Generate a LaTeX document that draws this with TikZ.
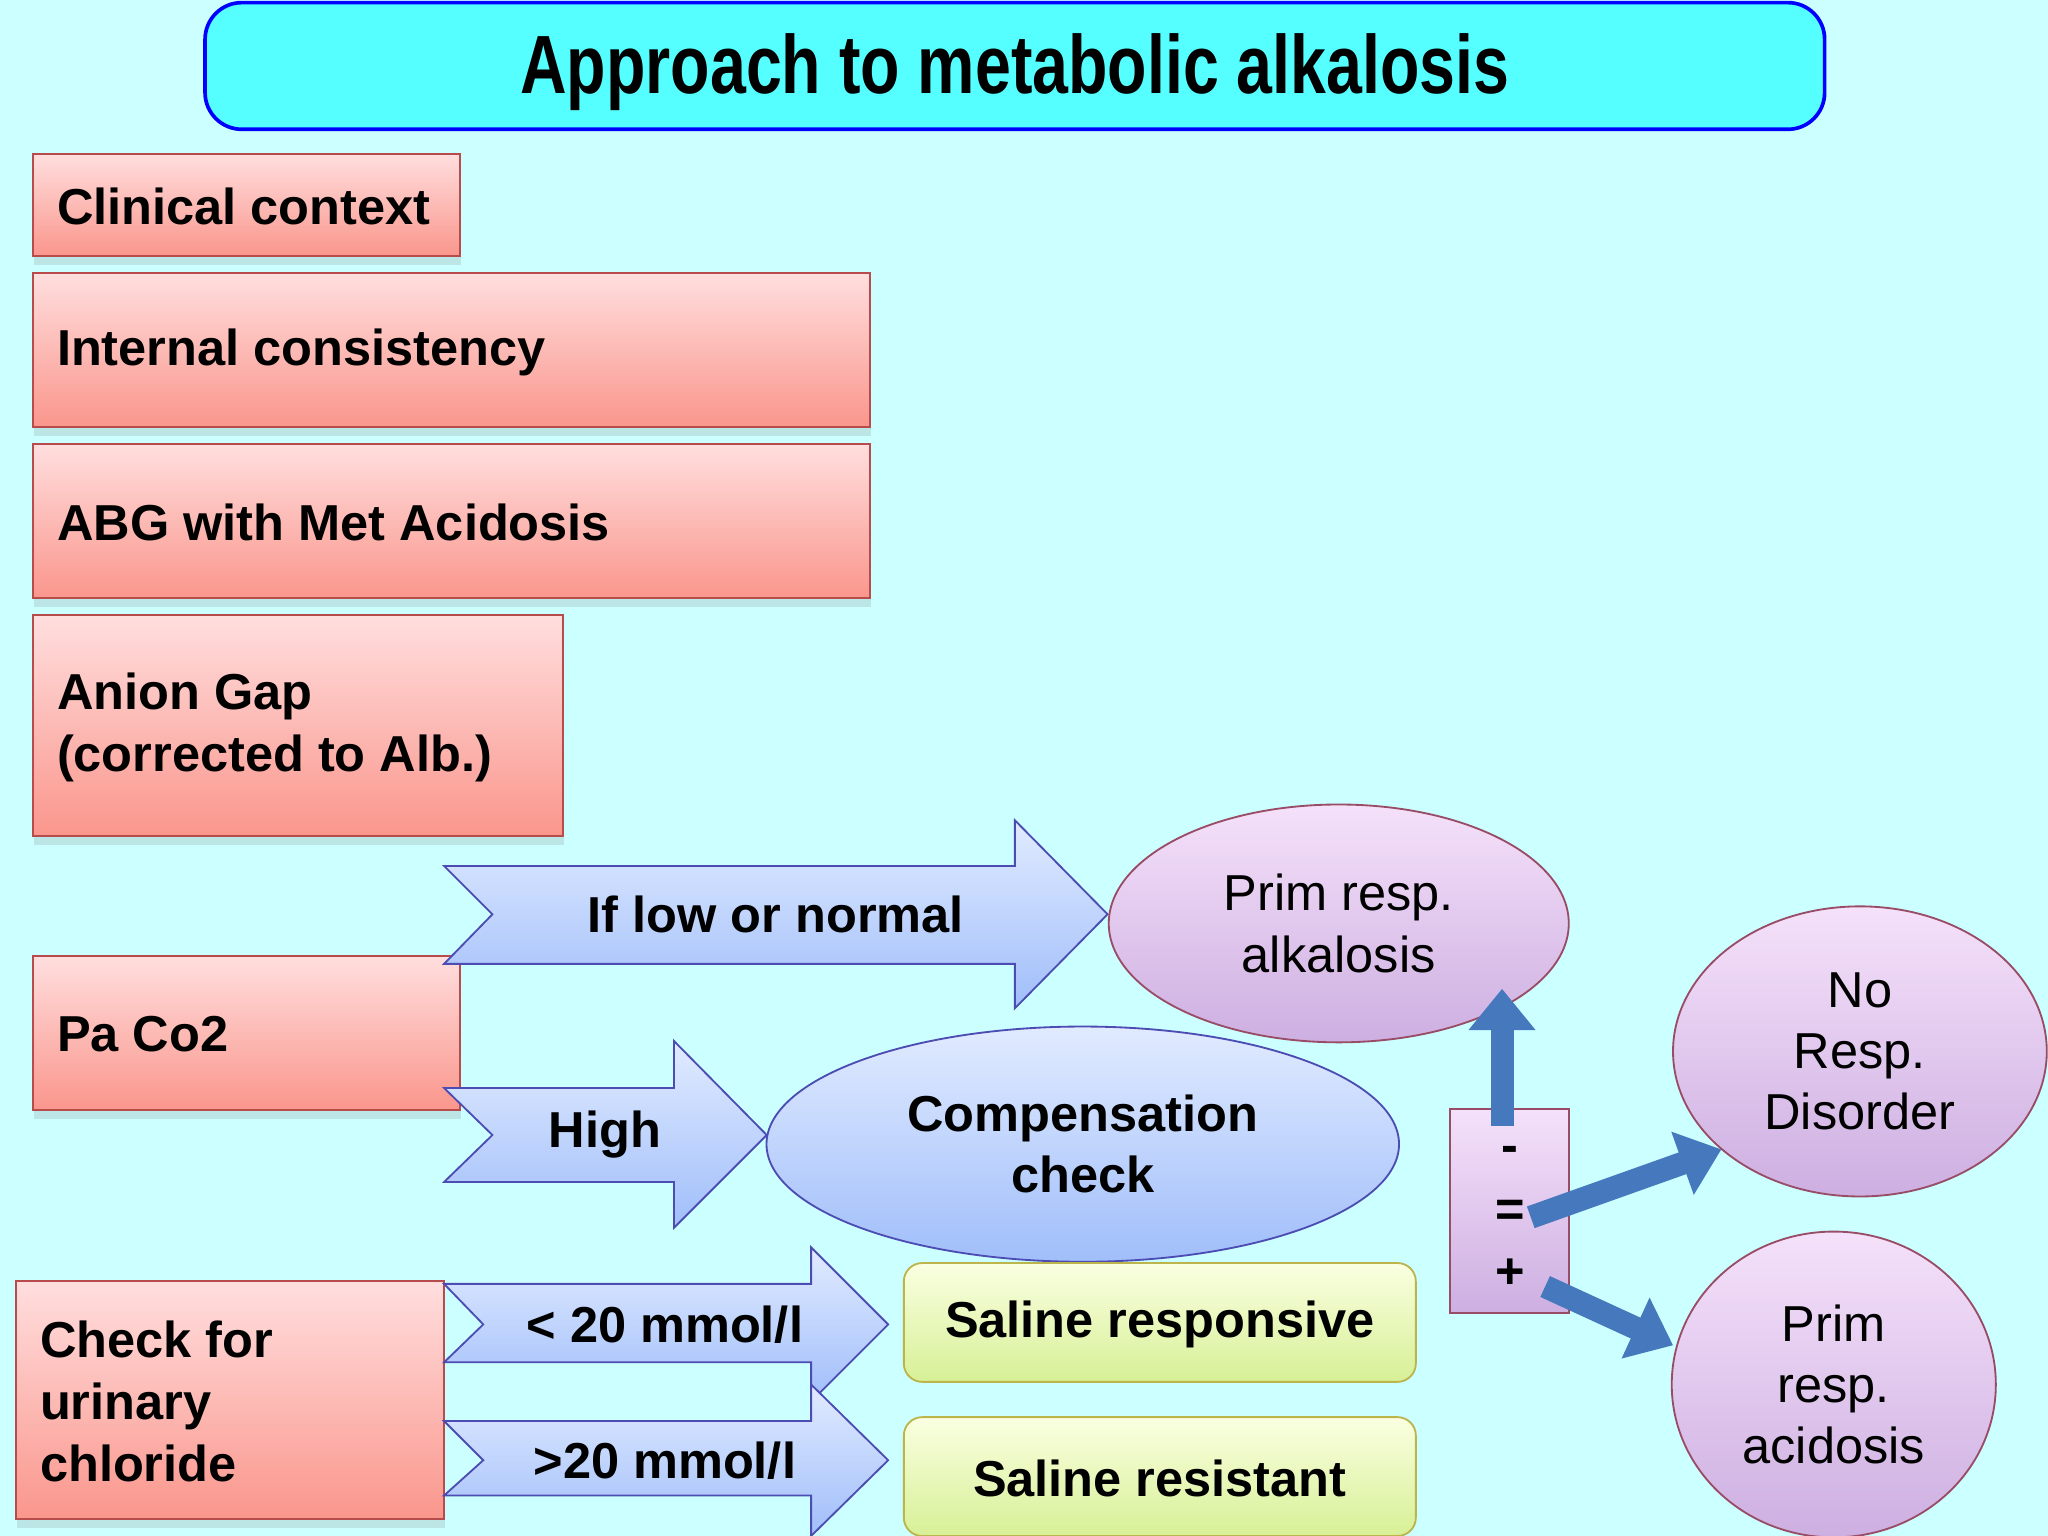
\documentclass[tikz,border=0pt]{standalone}
\usepackage{fontspec}
\setmainfont{Liberation Sans}
\newfontfamily\narrowfont[FakeStretch=0.78]{Liberation Sans}
\usetikzlibrary{shapes,arrows,positioning,shadows,calc,shapes.geometric,arrows.meta}
\definecolor{bgcyan}{RGB}{204,255,255}
\definecolor{titlecyan}{RGB}{85,255,255}
\definecolor{redtop}{RGB}{255,222,222}
\definecolor{redbot}{RGB}{250,150,140}
\definecolor{blutop}{RGB}{225,235,255}
\definecolor{blubot}{RGB}{160,190,250}
\definecolor{purtop}{RGB}{245,225,250}
\definecolor{purbot}{RGB}{205,175,225}
\definecolor{grntop}{RGB}{250,255,225}
\definecolor{grnbot}{RGB}{215,240,150}
\definecolor{bigblue}{RGB}{70,120,190}

\begin{document}
\begin{tikzpicture}[x=0.01cm,y=-0.01cm,
				font=\fontsize{11pt}{13.3pt}\selectfont,
				rbox/.style={draw=red!60!black!70, top color=redtop, bottom color=redbot, drop shadow={opacity=0.2, shadow xshift=0.3pt, shadow yshift=-2pt}},
				rtext/.style={anchor=west, inner sep=0pt, font=\fontsize{11pt}{13.5pt}\selectfont\bfseries, align=left},
				btext/.style={font=\fontsize{11pt}{13.3pt}\selectfont\bfseries},
				chev/.style={draw=blue!40!gray, top color=blutop, bottom color=blubot},
				oval/.style={ellipse, draw=purple!40!gray, top color=purtop, bottom color=purbot, align=center, inner sep=0pt},
				gbox/.style={draw=olive!60, rounded corners=4pt, top color=grntop, bottom color=grnbot},
				bigarr/.style={draw=bigblue!70!black, line width=5pt, -{Triangle[width=14pt,length=9pt]}, bigblue}
				]
				\fill[bgcyan] (0,0) rectangle (1568,1176);
				\useasboundingbox (0,0) rectangle (1568,1176);
				% title
				\draw[blue, thick, fill=titlecyan, rounded corners=8pt] (157,2) rectangle (1397,99);
				\node[font=\fontsize{18pt}{20pt}\narrowfont\bfseries] (title) at (777,55) {Approach to metabolic alkalosis};
				% red boxes
				\draw[rbox] (25,118) rectangle (352,196);
				\node[rtext] (ctx) at (43,158) {Clinical context};
				\draw[rbox] (25,209) rectangle (666,327);
				\node[rtext] (cons) at (43,270) {Internal consistency};
				\draw[rbox] (25,340) rectangle (666,458);
				\node[rtext] (abg) at (43,400) {ABG with Met Acidosis};
				\draw[rbox] (25,471) rectangle (431,640);
				\node[rtext] (gap) at (43,557) {Anion Gap\\(corrected to Alb.)};
				\draw[rbox] (25,732) rectangle (352,850);
				\node[rtext] (paco) at (43,792) {Pa Co2};
				\draw[rbox] (12,981) rectangle (340,1163);
				\node[rtext] (ucl) at (30,1073) {Check for\\urinary\\chloride};
				% chevron arrows
				\draw[chev] (340,663) -- (777,663) -- (777,628) -- (848,700) -- (777,772) -- (777,738) -- (340,738) -- (377,700) -- cycle;
				\node[btext] (low) at (594,700) {If low or normal};
				\draw[chev] (340,833) -- (516,833) -- (516,797) -- (587,869) -- (516,940) -- (516,905) -- (340,905) -- (377,869) -- cycle;
				\node[btext] (high) at (463,869) {High};
				\draw[chev] (340,983) -- (621,983) -- (621,955) -- (680,1014) -- (621,1073) -- (621,1043) -- (340,1043) -- (370,1014) -- cycle;
				\node[btext] (lt) at (509,1014) {< 20 mmol/l};
				\draw[chev] (340,1088) -- (621,1088) -- (621,1060) -- (680,1118) -- (621,1176) -- (621,1145) -- (340,1145) -- (370,1118) -- cycle;
				\node[btext] (gt) at (509,1118) {>20 mmol/l};
				% ovals
				\node[oval, minimum width=3.52cm, minimum height=1.82cm] (alk) at (1025,707) {Prim resp.\\alkalosis};
				\node[oval, draw=blue!40!gray, top color=blutop, bottom color=blubot, minimum width=4.84cm, minimum height=1.8cm, btext, align=center] (comp) at (829,876) {Compensation\\check};
				\node[oval, minimum width=2.86cm, minimum height=2.22cm] (nodis) at (1424,805) {No\\Resp.\\Disorder};
				\node[oval, minimum width=2.48cm, minimum height=2.34cm] (acid) at (1404,1060) {Prim\\resp.\\acidosis};
				% saline boxes
				\draw[gbox] (692,967) rectangle (1084,1058);
				\node[btext] (resp) at (888,1014) {Saline responsive};
				\draw[gbox] (692,1085) rectangle (1084,1176);
				\node[btext] (resist) at (888,1132) {Saline resistant};
				% sign box
				\draw[draw=purple!40!gray, top color=purtop, bottom color=purbot] (1110,849) rectangle (1201,1005);
				\node[btext] (minus) at (1156,884) {-};
				\node[btext] (equal) at (1156,929) {=};
				\node[btext] (plus) at (1156,975) {+};
				% big arrows
				\draw[bigarr] (1150,862) -- (1150,757);
				\draw[bigarr] (1172,932) -- (1318,880);
				\draw[bigarr] (1183,985) -- (1281,1030);
			\end{tikzpicture}
\end{document}
